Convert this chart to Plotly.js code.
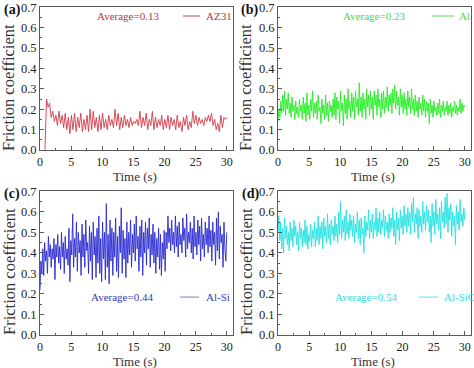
<!DOCTYPE html>
<html>
<head>
<meta charset="utf-8">
<script src="https://cdn.plot.ly/plotly-3.0.1.min.js"></script>
<style>
html,body{margin:0;padding:0;background:#fff;}
#chart{width:474px;height:368px;}
</style>
</head>
<body>
<div id="chart"></div>
<script>
// ---------- DATA ----------
const panelLabels = ['(a)', '(b)', '(c)', '(d)'];
const seriesNames = ['AZ31', 'Al', 'Al-Si', 'Al-SiC'];
const averageLabels = ['Average=0.13', 'Average=0.23', 'Average=0.44', 'Average=0.54'];
const xTitle = 'Time (s)';
const yTitle = 'Friction coefficient';
const xTickVals = [0, 5, 10, 15, 20, 25, 30];
const yTickVals = [0.0, 0.1, 0.2, 0.3, 0.4, 0.5, 0.6, 0.7];

// (a) AZ31: sampled every 0.25 s starting at 0.8 s
const az31Start = 0.8;
const az31Step = 0.25;
const az31 = [
  0.00,0.25,0.21,0.23,0.16,0.19,0.14,0.17,0.12,0.19,0.13,0.17,0.11,0.18,0.10,0.16,0.08,0.17,0.10,0.18,
  0.09,0.16,0.11,0.18,0.09,0.15,0.10,0.17,0.09,0.20,0.10,0.19,0.11,0.16,0.09,0.17,0.10,0.18,0.11,0.15,
  0.10,0.17,0.12,0.15,0.11,0.20,0.12,0.18,0.10,0.16,0.11,0.17,0.12,0.15,0.11,0.16,0.12,0.14,0.13,0.15,
  0.12,0.19,0.11,0.16,0.12,0.18,0.10,0.15,0.12,0.19,0.10,0.16,0.11,0.15,0.12,0.17,0.10,0.15,0.11,0.17,
  0.10,0.16,0.12,0.15,0.10,0.17,0.11,0.14,0.09,0.16,0.12,0.17,0.10,0.14,0.11,0.19,0.13,0.17,0.12,0.16,
  0.13,0.15,0.12,0.16,0.14,0.17,0.14,0.18,0.12,0.15,0.10,0.13,0.09,0.17,0.11,0.16,0.15,0.16
];

// (b)-(d): sampled every 0.15 s starting at 0 s
const denseStart = 0;
const denseStep = 0.15;
const al = [
  0.14,0.20,0.16,0.24,0.18,0.27,0.19,0.29,0.17,0.25,0.20,0.28,0.18,0.23,0.16,0.26,0.19,0.22,0.15,0.24,
  0.18,0.21,0.16,0.25,0.19,0.22,0.15,0.26,0.18,0.23,0.14,0.28,0.17,0.22,0.15,0.25,0.19,0.29,0.16,0.23,
  0.18,0.24,0.15,0.27,0.19,0.21,0.13,0.25,0.18,0.22,0.15,0.27,0.17,0.23,0.14,0.24,0.19,0.22,0.16,0.25,
  0.17,0.28,0.15,0.26,0.20,0.24,0.13,0.29,0.19,0.23,0.12,0.27,0.18,0.25,0.15,0.30,0.20,0.24,0.16,0.28,
  0.19,0.26,0.15,0.29,0.21,0.25,0.17,0.33,0.19,0.26,0.16,0.28,0.20,0.25,0.15,0.30,0.21,0.27,0.17,0.29,
  0.20,0.26,0.15,0.29,0.22,0.27,0.17,0.30,0.21,0.25,0.16,0.28,0.20,0.29,0.18,0.26,0.21,0.31,0.19,0.27,
  0.22,0.28,0.18,0.30,0.23,0.32,0.20,0.29,0.22,0.26,0.17,0.30,0.21,0.27,0.18,0.28,0.20,0.25,0.17,0.29,
  0.21,0.26,0.18,0.30,0.20,0.25,0.17,0.27,0.19,0.24,0.16,0.26,0.20,0.23,0.17,0.27,0.19,0.25,0.16,0.24,
  0.19,0.23,0.13,0.25,0.18,0.22,0.16,0.24,0.19,0.21,0.17,0.23,0.18,0.25,0.16,0.22,0.19,0.24,0.17,0.21,
  0.19,0.24,0.17,0.22,0.18,0.23,0.16,0.21,0.19,0.24,0.18,0.22,0.17,0.21,0.19,0.25,0.18,0.23,0.19,0.22,
  0.21
];
const alSi = [
  0.22,0.36,0.30,0.42,0.29,0.45,0.36,0.41,0.30,0.48,0.38,0.44,0.33,0.42,0.37,0.47,0.27,0.44,0.38,0.49,
  0.35,0.43,0.32,0.50,0.38,0.45,0.30,0.48,0.37,0.42,0.34,0.52,0.26,0.46,0.39,0.59,0.33,0.47,0.38,0.55,
  0.31,0.50,0.40,0.46,0.29,0.54,0.38,0.49,0.33,0.56,0.41,0.45,0.30,0.53,0.36,0.50,0.27,0.55,0.39,0.48,
  0.28,0.52,0.35,0.58,0.30,0.47,0.26,0.55,0.37,0.50,0.27,0.64,0.33,0.49,0.25,0.56,0.36,0.52,0.29,0.50,
  0.38,0.57,0.31,0.48,0.28,0.53,0.40,0.62,0.30,0.51,0.37,0.47,0.28,0.55,0.35,0.50,0.39,0.56,0.33,0.49,
  0.40,0.54,0.36,0.58,0.42,0.48,0.31,0.53,0.38,0.56,0.29,0.50,0.40,0.55,0.34,0.52,0.42,0.57,0.33,0.49,
  0.39,0.54,0.35,0.50,0.30,0.47,0.38,0.52,0.32,0.49,0.29,0.45,0.37,0.51,0.31,0.50,0.42,0.58,0.45,0.52,
  0.41,0.56,0.44,0.50,0.40,0.58,0.43,0.53,0.38,0.55,0.44,0.49,0.40,0.57,0.46,0.52,0.38,0.59,0.42,0.50,
  0.45,0.55,0.40,0.52,0.37,0.58,0.43,0.50,0.39,0.56,0.44,0.53,0.36,0.57,0.42,0.49,0.38,0.55,0.44,0.52,
  0.40,0.58,0.43,0.51,0.36,0.55,0.44,0.50,0.34,0.57,0.41,0.60,0.37,0.53,0.45,0.49,0.33,0.55,0.42,0.36,
  0.50
];
const alSiC = [
  0.50,0.58,0.46,0.55,0.42,0.52,0.40,0.57,0.47,0.53,0.44,0.50,0.41,0.55,0.46,0.52,0.43,0.56,0.48,0.53,
  0.44,0.50,0.41,0.55,0.47,0.52,0.43,0.51,0.45,0.56,0.44,0.53,0.42,0.49,0.46,0.54,0.43,0.51,0.47,0.55,
  0.43,0.52,0.46,0.58,0.44,0.53,0.47,0.55,0.42,0.57,0.48,0.53,0.45,0.59,0.47,0.54,0.44,0.56,0.49,0.53,
  0.46,0.58,0.48,0.54,0.45,0.60,0.49,0.65,0.47,0.56,0.50,0.58,0.46,0.61,0.49,0.55,0.47,0.59,0.51,0.56,
  0.48,0.58,0.45,0.54,0.50,0.60,0.47,0.56,0.44,0.57,0.49,0.52,0.40,0.58,0.48,0.55,0.51,0.61,0.47,0.56,
  0.50,0.59,0.47,0.55,0.51,0.62,0.48,0.57,0.50,0.60,0.49,0.56,0.52,0.61,0.48,0.58,0.51,0.55,0.47,0.59,
  0.50,0.57,0.52,0.62,0.48,0.56,0.44,0.60,0.51,0.57,0.46,0.61,0.52,0.58,0.49,0.63,0.53,0.59,0.50,0.62,
  0.53,0.60,0.49,0.64,0.55,0.67,0.50,0.59,0.54,0.62,0.47,0.61,0.53,0.58,0.50,0.65,0.54,0.60,0.51,0.63,
  0.55,0.61,0.50,0.58,0.45,0.64,0.53,0.60,0.49,0.66,0.54,0.59,0.51,0.62,0.47,0.65,0.55,0.60,0.52,0.67,
  0.54,0.69,0.50,0.62,0.56,0.64,0.48,0.60,0.53,0.58,0.44,0.63,0.54,0.60,0.51,0.66,0.55,0.59,0.53,0.62,
  0.56
];

// ---------- STYLE ----------
const FONT = 'Liberation Serif, Times New Roman, serif';
const lineColors = ['#d23a48', '#22ee22', '#2a2ad0', '#22e2e2'];
const textColors = ['#b8363e', '#44dd44', '#3a3aa8', '#33dddd'];
const legendLineColors = ['#b04a50', '#55e055', '#7a7ac8', '#55e0e0'];
const titleColor = '#333';

function timesFor(start, step, n) {
  const t = [];
  for (let i = 0; i < n; i++) t.push(+(start + i * step).toFixed(3));
  return t;
}

const seriesY = [az31, al, alSi, alSiC];
const seriesX = [
  timesFor(az31Start, az31Step, az31.length),
  timesFor(denseStart, denseStep, al.length),
  timesFor(denseStart, denseStep, alSi.length),
  timesFor(denseStart, denseStep, alSiC.length)
];

const axisIds = [['x', 'y'], ['x2', 'y2'], ['x3', 'y3'], ['x4', 'y4']];
const traces = seriesY.map((y, i) => ({
  type: 'scatter', mode: 'lines',
  x: seriesX[i], y: y,
  xaxis: axisIds[i][0], yaxis: axisIds[i][1],
  name: seriesNames[i],
  line: {color: lineColors[i], width: 0.9},
  showlegend: false, hoverinfo: 'skip'
}));

// panel geometry (paper fractions)
const W = 474, H = 368;
const xDomLeft = [40 / W, 233 / W];
const xDomRight = [278 / W, 471 / W];
const yDomTop = [1 - 150 / H, 1 - 7.3 / H];
const yDomBot = [1 - 335 / H, 1 - 191.3 / H];
const doms = [[xDomLeft, yDomTop], [xDomRight, yDomTop], [xDomLeft, yDomBot], [xDomRight, yDomBot]];

const axColor = '#5a5a5a';
function xAxis(dom, anchor) {
  return {
    domain: dom, anchor: anchor, range: [0, 31],
    tickmode: 'array', tickvals: xTickVals,
    ticks: 'inside', ticklen: 4, tickwidth: 1, tickcolor: axColor,
    ticklabelstandoff: 1,
    minor: {ticks: 'inside', ticklen: 2, tickcolor: axColor, dtick: 2.5, tick0: 0, showgrid: false},
    showline: true, mirror: true, linecolor: axColor, linewidth: 1,
    showgrid: false, zeroline: false,
    tickfont: {family: FONT, size: 12, color: '#222'}
  };
}
function yAxis(dom, anchor) {
  return {
    domain: dom, anchor: anchor, range: [0, 0.7],
    tickmode: 'array', tickvals: yTickVals, tickformat: '.1f',
    ticks: 'inside', ticklen: 4, tickwidth: 1, tickcolor: axColor,
    minor: {ticks: 'inside', ticklen: 2, tickcolor: axColor, dtick: 0.05, tick0: 0, showgrid: false},
    showline: true, mirror: true, linecolor: axColor, linewidth: 1,
    showgrid: false, zeroline: false,
    tickfont: {family: FONT, size: 12.5, color: '#222'}
  };
}

const layout = {
  width: W, height: H,
  margin: {l: 0, r: 0, t: 0, b: 0},
  paper_bgcolor: '#fff', plot_bgcolor: '#fff',
  showlegend: false,
  annotations: [], shapes: []
};
const suffix = ['', '2', '3', '4'];
doms.forEach((d, i) => {
  layout['xaxis' + suffix[i]] = xAxis(d[0], 'y' + suffix[i]);
  layout['yaxis' + suffix[i]] = yAxis(d[1], 'x' + suffix[i]);
});

// axis titles (placed as annotations for exact positioning)
const xTitlePos = [[135, 176.5], [373, 176.5], [135, 361], [373, 361]];
const yTitlePos = [[9, 88], [246, 88], [9, 272], [246, 272]];
for (let i = 0; i < 4; i++) {
  layout.annotations.push({
    xref: 'paper', yref: 'paper', x: xTitlePos[i][0] / W, y: 1 - xTitlePos[i][1] / H,
    text: xTitle, showarrow: false, xanchor: 'center', yanchor: 'middle', borderpad: 0,
    font: {family: FONT, size: 13, color: titleColor}
  });
  layout.annotations.push({
    xref: 'paper', yref: 'paper', x: yTitlePos[i][0] / W, y: 1 - yTitlePos[i][1] / H,
    text: yTitle, showarrow: false, xanchor: 'center', yanchor: 'middle', textangle: -90,
    font: {family: FONT, size: 16.5, color: titleColor}
  });
}

// legend-like annotations (positions in axis-domain fractions)
const avgX = [0.456, 0.497, 0.425, 0.456];
const legY = [0.939, 0.939, 0.264, 0.264];
const lineX0 = [0.741, 0.798, 0.725, 0.731];
const lineX1 = [0.829, 0.912, 0.824, 0.830];
const nameX = [0.852, 0.930, 0.852, 0.848];
for (let i = 0; i < 4; i++) {
  const xr = 'x' + suffix[i] + ' domain', yr = 'y' + suffix[i] + ' domain';
  layout.annotations.push({
    xref: xr, yref: yr, x: avgX[i], y: legY[i], text: averageLabels[i],
    showarrow: false, xanchor: 'center', yanchor: 'middle',
    font: {family: FONT, size: 11, color: textColors[i]}
  });
  layout.annotations.push({
    xref: xr, yref: yr, x: nameX[i], y: legY[i], text: seriesNames[i],
    showarrow: false, xanchor: 'left', yanchor: 'middle',
    font: {family: FONT, size: 11, color: textColors[i]}
  });
  layout.shapes.push({
    type: 'line', xref: xr, yref: yr, x0: lineX0[i], x1: lineX1[i], y0: legY[i], y1: legY[i],
    line: {color: legendLineColors[i], width: 1}
  });
}
// panel labels
const labelPos = [[2, 10], [239, 10], [2, 194], [240, 194]];
panelLabels.forEach((lab, i) => {
  layout.annotations.push({
    xref: 'paper', yref: 'paper', x: labelPos[i][0] / W, y: 1 - labelPos[i][1] / H,
    text: '<b>' + lab + '</b>', showarrow: false, xanchor: 'left', yanchor: 'middle',
    font: {family: FONT, size: 14, color: '#111'}
  });
});

Plotly.newPlot('chart', traces, layout, {staticPlot: true, displayModeBar: false});
</script>
</body>
</html>
